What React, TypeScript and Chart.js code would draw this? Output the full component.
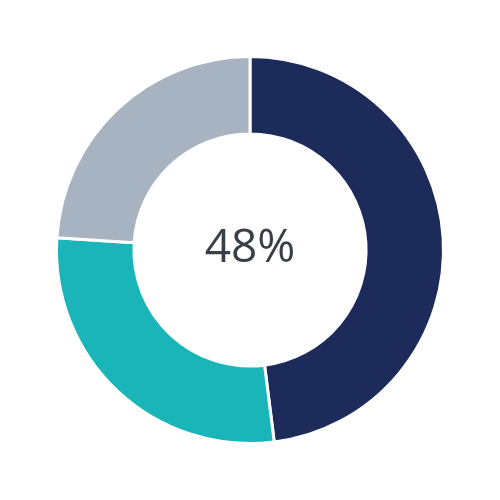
import React, { useEffect, useRef } from "react";
import { Chart, registerables } from "chart.js";

Chart.register(...registerables);

const labels = ["A", "B", "C"];
const values = [48, 28, 24];
const colors = ["#1c2b5a", "#1ab5b8", "#a8b3c2"];
const centerText = "48%";

const centerTextPlugin = {
  id: "centerText",
  afterDraw(chart: any) {
    const { ctx, chartArea } = chart;
    const cx = (chartArea.left + chartArea.right) / 2;
    const cy = (chartArea.top + chartArea.bottom) / 2;
    ctx.save();
    ctx.font = "400 46px 'Open Sans', sans-serif";
    ctx.fillStyle = "#3a3f47";
    ctx.textAlign = "center";
    ctx.textBaseline = "middle";
    ctx.fillText(centerText, cx, cy - 1);
    ctx.restore();
  },
};

export default function App() {
  const ref = useRef<HTMLCanvasElement>(null);
  useEffect(() => {
    document.body.style.margin = "0";
    const chart = new Chart(ref.current!, {
      type: "doughnut",
      data: {
        labels,
        datasets: [
          {
            data: values,
            backgroundColor: colors,
            borderColor: "#ffffff",
            borderWidth: 3,
          },
        ],
      },
      options: {
        animation: false,
        responsive: false,
        cutout: "60%",
        layout: { padding: 55 },
        plugins: { legend: { display: false }, tooltip: { enabled: false } },
      },
      plugins: [centerTextPlugin],
    });
    return () => chart.destroy();
  }, []);
  return (
    <div style={{ width: 500, height: 500, background: "#fff" }}>
      <canvas ref={ref} width={500} height={500} style={{ width: 500, height: 500 }} />
    </div>
  );
}
